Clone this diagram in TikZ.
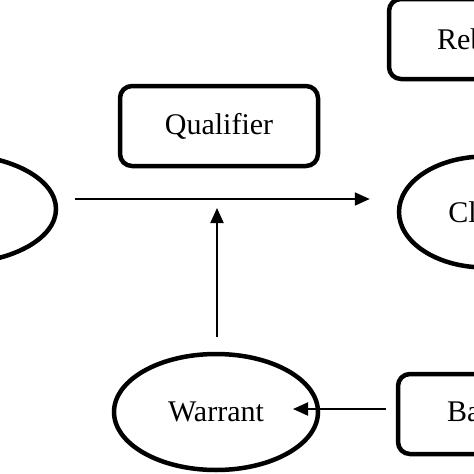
\documentclass[tikz,border=0pt]{standalone}
\usepackage{fontspec}
\setmainfont{Liberation Serif}
\usetikzlibrary{shapes.geometric}
\usetikzlibrary{arrows.meta}
\tikzset{>={Triangle[length=15pt, width=13pt]}}
\tikzset{
    oval/.style={draw, ellipse, line width=4.5pt, inner sep=0pt,
        font=\fontsize{30}{36}\selectfont},
    tbox/.style={draw, rectangle, rounded corners=12pt, line width=4.5pt,
        minimum width=198pt, minimum height=80pt, inner sep=0pt,
        font=\fontsize{30}{36}\selectfont},
    arr/.style={->, line width=2pt}
}

\begin{document}
\begin{tikzpicture}[x=1pt, y=-1pt]
    \useasboundingbox (0, 0) rectangle (474, 474);
    \clip (0, 0) rectangle (474, 474);
    \node[oval, minimum width=204pt, minimum height=109pt](data) at (-46, 209){Data};
    \node[oval, minimum width=172pt, minimum height=111pt](claim) at (485, 212){Claim};
    \node[oval, minimum width=204pt, minimum height=116pt](warrant) at (216, 412){Warrant};
    \node[tbox](qualifier) at (219, 126){Qualifier};
    \node[tbox](rebuttal) at (488, 39){Rebuttal};
    \node[tbox](backing) at (497, 414){Backing};
    \coordinate (mid) at (217, 208);
    \coordinate (wtip) at (293, 409);
    \draw[arr]([shift={(17, -10)}]data.east)--([shift={(-27, -13)}]claim.west);
    \draw[arr]([shift={(1, -15)}]warrant.north)--(mid);
    \draw[arr]([shift={(-10, -5)}]backing.west)--(wtip);
\end{tikzpicture}
\end{document}
